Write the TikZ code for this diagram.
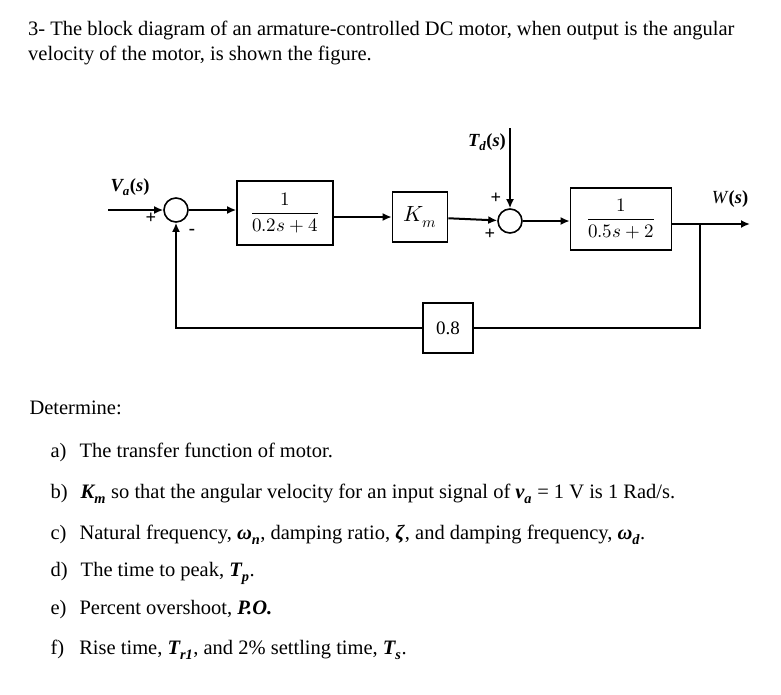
\documentclass[tikz,border=0pt]{standalone}
\usepackage{amsmath}
\usepackage{fontspec}
\usepackage{unicode-math}
\setmainfont{Liberation Serif}
\usetikzlibrary{arrows.meta}
\newcommand{\bi}[1]{\textbf{\textit{#1}}}
\begin{document}
\begin{tikzpicture}[x=1pt,y=-1pt,
  blk/.style={draw,line width=1.6pt,minimum width=#1,font=\fontsize{19}{22}\selectfont},
  sumj/.style={draw,circle,line width=1.6pt,minimum size=24pt,inner sep=0},
  sig/.style={line width=2pt,-{Latex[length=9pt,width=8pt]}},
  ln/.style={line width=2pt},
  txt/.style={anchor=west,font=\fontsize{20.5}{25}\selectfont},
  lab/.style={font=\fontsize{18.5}{21}\selectfont}]
\useasboundingbox (0,0) rectangle (781,694);
\node[txt,align=left,anchor=north west,inner sep=0] (title) at (28,21) {3- The block diagram of an armature-controlled DC motor, when output is the angular\\velocity of the motor, is shown the figure.};
\node[sumj] (s1) at (176,210) {};
\node[blk=96pt,minimum height=64pt] (b1) at (285,213) {$\dfrac{1}{0.2s+4}$};
\node[blk=55pt,minimum height=50pt,font=\fontsize{22}{24}\selectfont] (km) at (420,217) {$K_m$};
\node[sumj] (s2) at (510,221) {};
\node[blk=101pt,minimum height=62pt] (b3) at (621,219) {$\dfrac{1}{0.5s+2}$};
\node[blk=50pt,minimum height=50pt] (fb) at (448,328) {0.8};
\coordinate (in) at (108,210);
\coordinate (td) at (510,128);
\coordinate (out) at (750,224);
\coordinate (br) at (700,224);
\node[lab] (va) at (130,187) {\bi{V\textsubscript{a}}\textbf{(}\bi{s}\textbf{)}};
\node[lab] (tdl) at (487,142) {\bi{T\textsubscript{d}}\textbf{(}\bi{s}\textbf{)}};
\node[lab] (w) at (730,199) {\textit{W}\textbf{(}\bi{s}\textbf{)}};
\node[lab] (p1) at (151,218) {\textbf{+}};
\node[lab] (m1) at (192,232) {\textbf{-}};
\node[lab] (p2) at (496,198) {\textbf{+}};
\node[lab] (p3) at (490,234) {\textbf{+}};
\draw[sig] (in) -- (s1);
\draw[sig] (s1) -- (s1 -| b1.west);
\draw[sig] (b1.east |- km) -- (km);
\draw[sig] (km) -- (s2);
\draw[sig] (td) -- (s2);
\draw[sig] (s2) -- (s2 -| b3.west);
\draw[sig] (b3.east |- out) -- (out);
\draw[ln] (br) |- (fb.east);
\draw[sig] (fb.west) -| (s1.south);
\node[txt] (det) at (26,408) {Determine:};
\node[txt] (a) at (47,452) {a)\hspace{8pt} The transfer function of motor.};
\node[txt] (b) at (47,494) {b)\hspace{8pt} \bi{K\textsubscript{m}} so that the angular velocity for an input signal of \bi{v\textsubscript{a}} = 1 V is 1 Rad/s.};
\node[txt] (c) at (47,535) {c)\hspace{8pt} Natural frequency, \bi{ω\textsubscript{n}}, damping ratio, \bi{ζ}, and damping frequency, \bi{ω\textsubscript{d}}.};
\node[txt] (d) at (47,573) {d)\hspace{8pt} The time to peak, \bi{T\textsubscript{p}}.};
\node[txt] (e) at (47,610) {e)\hspace{8pt} Percent overshoot, \bi{P.O.}};
\node[txt] (f) at (47,650) {f)\hspace{10pt} Rise time, \bi{T\textsubscript{r1}}, and 2\% settling time, \bi{T\textsubscript{s}}.};
\end{tikzpicture}
\end{document}
